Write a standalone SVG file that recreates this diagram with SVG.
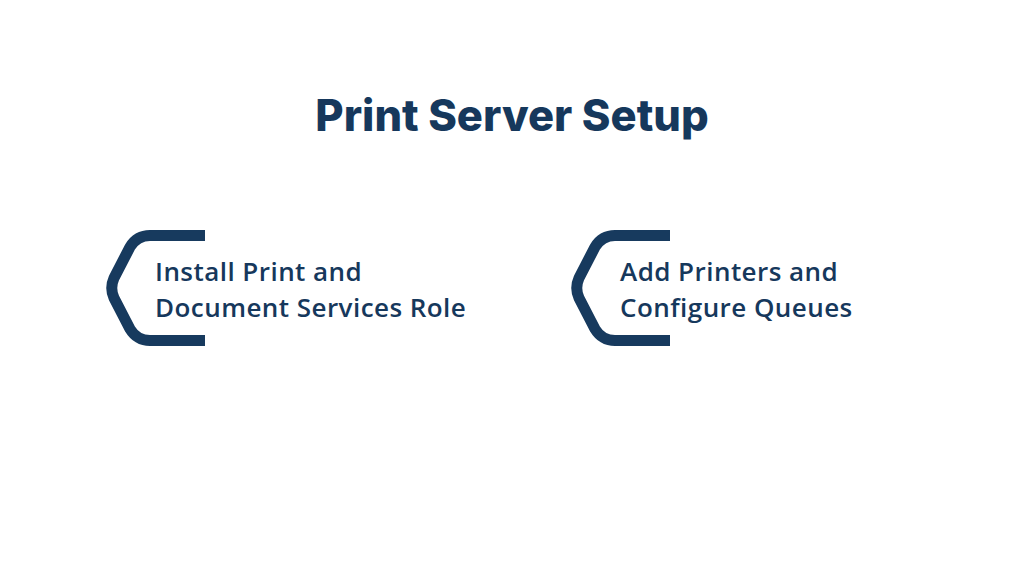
<svg xmlns="http://www.w3.org/2000/svg" width="1024" height="576" viewBox="0 0 1024 576">
<style>
.bg{fill:#ffffff}
.title{font-family:Inter,"Liberation Sans",sans-serif;font-weight:800;font-size:43.5px;fill:#16385c}
.lbl{font-family:"Open Sans","Liberation Sans",sans-serif;font-weight:600;font-size:26px;letter-spacing:0.45px;fill:#16385c}
.br{fill:none;stroke:#173a5e;stroke-width:11;stroke-linejoin:round;stroke-linecap:butt}
</style>
<defs>
<path id="bracket" class="br" d="M205,235.5 L150,235.5 Q137,235.5 130,247 L114,278 Q109.5,288 114,298 L130,329 Q137,340.5 150,340.5 L205,340.5"/>
</defs>
<rect class="bg" x="0" y="0" width="1024" height="576"/>
<text class="title" x="512" y="131" text-anchor="middle">Print Server Setup</text>
<g id="connectors"></g>
<g id="node1">
<use href="#bracket"/>
<text class="lbl" x="155" y="281">Install Print and</text>
<text class="lbl" x="155" y="317">Document Services Role</text>
</g>
<g id="node2">
<use href="#bracket" transform="translate(465,0)"/>
<text class="lbl" x="620" y="281">Add Printers and</text>
<text class="lbl" x="620" y="317">Configure Queues</text>
</g>
</svg>
